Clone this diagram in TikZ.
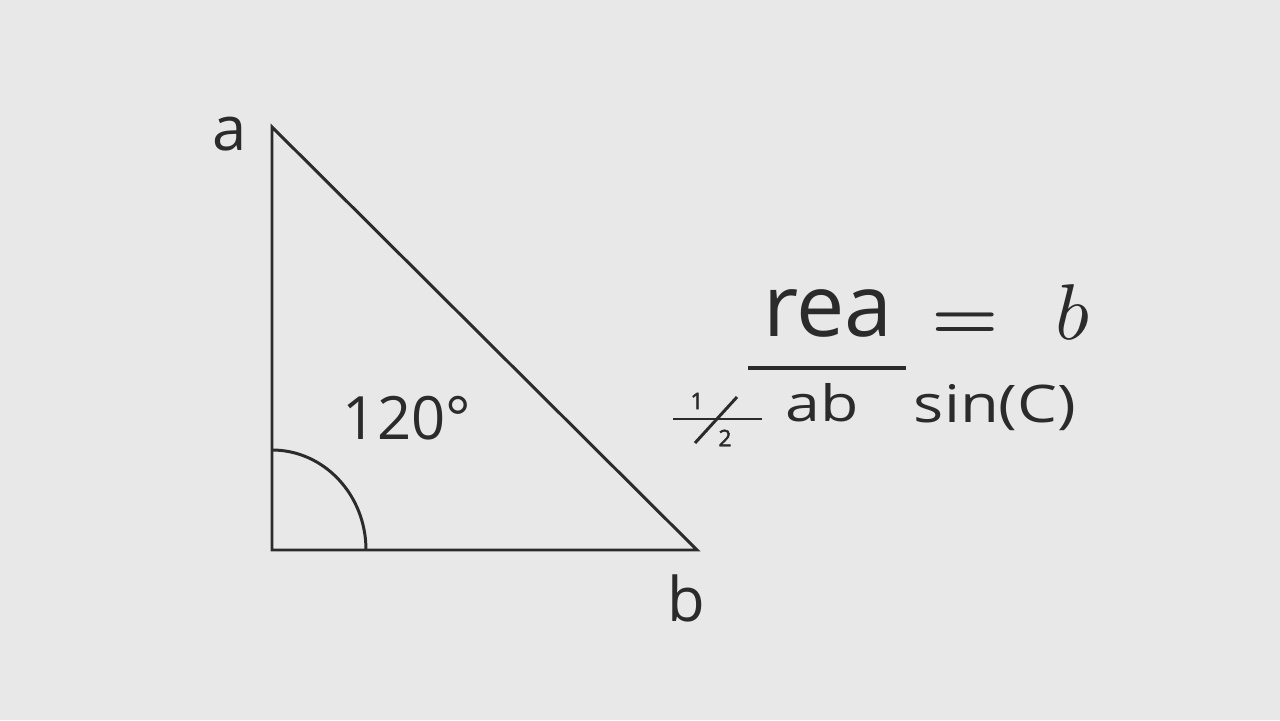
\documentclass[tikz,border=0pt]{standalone}
\usepackage[no-math]{fontspec}
\setmainfont{Open Sans}
\usepackage{graphicx}
\definecolor{bg}{HTML}{E8E8E8}
\definecolor{ink}{HTML}{2B2B2B}
\begin{document}
\begin{tikzpicture}[
    lbl/.style={inner sep=0pt, anchor=base, text=ink},
    edge/.style={draw=ink, line width=1.7pt}]
    \fill[bg] (0,0) rectangle (25.6,14.4);
    \useasboundingbox (0,0) rectangle (25.6,14.4);
    % triangle
    \coordinate (a) at (5.44,11.86);
    \coordinate (c) at (5.44,3.4);
    \coordinate (b) at (13.94,3.4);
    \draw[edge,line join=miter] (a) -- (c) -- (b) -- cycle;
    \draw[edge] (c) ++(0,2) arc[start angle=90,end angle=0,x radius=1.88,y radius=2];
    \node[lbl,font=\fontsize{35}{40}\selectfont] (la) at (4.6,11.38) {a};
    \node[lbl,font=\fontsize{35}{40}\selectfont] (lb) at (13.72,1.96) {b};
    \node[lbl,font=\fontsize{34}{40}\selectfont] (ang) at (8.14,5.6) {120°};
    % formula
    \node[lbl,font=\fontsize{49}{55}\selectfont] (rea) at (16.56,7.66) {rea};
    \coordinate (barL) at (14.96,7.04);
    \coordinate (barR) at (18.12,7.04);
    \draw[draw=ink,line width=2.2pt] (barL) -- (barR);
    \node[lbl] (eq) at (19.3,7.62) {\scalebox{4.3}[3.7]{\boldmath$=$}};
    \node[lbl] (rb) at (21.44,7.6) {\scalebox{4.5}{$b$}};
    \node[lbl,font=\fontsize{28.5}{34}\selectfont] (ab) at (16.44,5.96) {\scalebox{1.25}[1]{ab}};
    \node[lbl,font=\fontsize{29.5}{34}\selectfont] (sin) at (19.9,5.94) {\scalebox{1.22}[1]{sin(C)}};
    % half
    \node[inner sep=0pt,text=ink,font=\fontsize{13}{15}\selectfont\addfontfeature{FakeBold=2}] (one) at (13.94,6.38) {1};
    \node[inner sep=0pt,text=ink,font=\fontsize{13}{15}\selectfont\addfontfeature{FakeBold=2}] (two) at (14.5,5.64) {2};
    \coordinate (hL) at (13.46,6.02);
    \coordinate (hR) at (15.24,6.02);
    \coordinate (sL) at (13.9,5.54);
    \coordinate (sR) at (14.74,6.46);
    \draw[edge] (hL) -- (hR);
    \draw[edge] (sL) -- (sR);
\end{tikzpicture}
\end{document}
